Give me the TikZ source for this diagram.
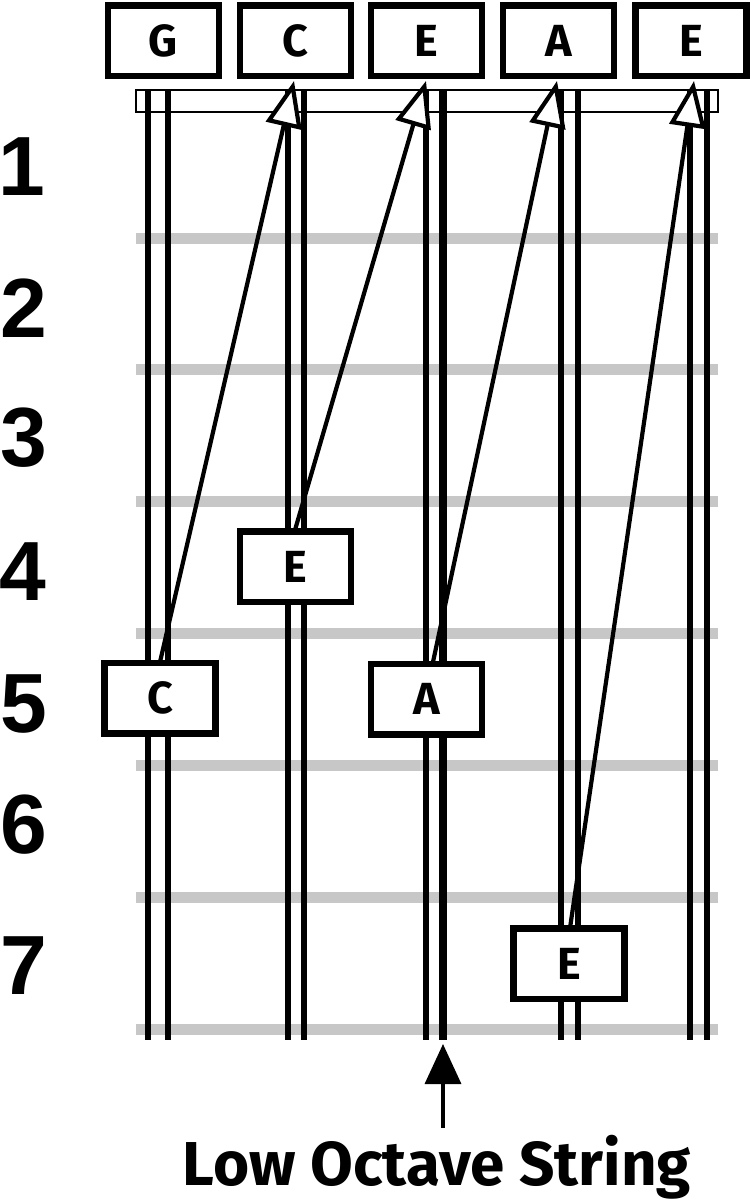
\documentclass[tikz,border=0pt]{standalone}
\usepackage{fontspec}
\setmainfont{Fira Sans}
\newfontfamily\numfont{Liberation Sans}
\usetikzlibrary{arrows.meta}
\tikzset{
  notebox/.style={draw, line width=6.5pt, fill=white, minimum width=111pt, minimum height=70.5pt, inner sep=0pt,
    font=\bfseries\fontsize{45}{45}\selectfont},
  fretline/.style={draw=black!22, line width=11pt},
  stringline/.style={draw=black, line width=5.5pt},
  boldstring/.style={draw=black, line width=8.5pt},
  nutbox/.style={draw=black, line width=1.3pt},
  moveline/.style={draw=black, line width=4.2pt, -{Triangle[length=46pt,width=36pt,fill=white]}},
  lowarrow/.style={draw=black, line width=3.5pt, -{Triangle[length=40pt,width=36pt]}},
  fretnum/.style={inner sep=0pt, font=\numfont\bfseries\fontsize{84}{84}\selectfont},
  lowlabel/.style={inner sep=0pt, anchor=base, font=\bfseries\fontsize{62}{62}\selectfont}
}
\begin{document}
\begin{tikzpicture}[x=1pt,y=-1pt]
\useasboundingbox[fill=white] (0,0) rectangle (751,1200);
% fret lines
\foreach \fy in {238,369.5,501,633,765,897,1029}{
  \draw[fretline] (136,\fy) -- (718,\fy);
}
% nut
\draw[nutbox] (136,90) rectangle (718,112);
% strings
\foreach \sx in {148,168,288,304,426,561,578,690,707}{
  \draw[stringline] (\sx,89) -- (\sx,1040);
}
\draw[boldstring] (443,89) -- (443,1040);
% fret numbers
\node[fretnum] (n1) at (22,167) {1};
\node[fretnum] (n2) at (24,308) {2};
\node[fretnum] (n3) at (24,438) {3};
\node[fretnum] (n4) at (23,572) {4};
\node[fretnum] (n5) at (24,704) {5};
\node[fretnum] (n6) at (24,825) {6};
\node[fretnum] (n7) at (24,966) {7};
% arrow tip targets
\coordinate (tC) at (294,81);
\coordinate (tE) at (426,81);
\coordinate (tA) at (557,81);
\coordinate (tE2) at (694,81);
% fretted notes
\coordinate (sC) at (160,662);
\coordinate (sE) at (295,530);
\coordinate (sA) at (433,662);
\coordinate (sE2) at (570,928);
\draw[moveline] (sC) -- (tC);
\draw[moveline] (sE) -- (tE);
\draw[moveline] (sA) -- (tA);
\draw[moveline] (sE2) -- (tE2);
% open-string boxes
\node[notebox] (oG) at (163.5,40.5) {G};
\node[notebox] (oC) at (295.5,40.5) {C};
\node[notebox] (oE) at (426.5,40.5) {E};
\node[notebox] (oA) at (558.5,40.5) {A};
\node[notebox] (oE2) at (691,40.5) {E};
% fretted boxes
\node[notebox] (fC) at (160,698) {C};
\node[notebox] (fE) at (295.5,566.5) {E};
\node[notebox] (fA) at (426.5,699) {A};
\node[notebox] (fE2) at (569,963.5) {E};
% low octave
\coordinate (lowtail) at (443,1128);
\coordinate (lowtip) at (443,1044);
\draw[lowarrow] (lowtail) -- (lowtip);
\node[lowlabel] (lowtext) at (437,1185) {Low Octave String};
\end{tikzpicture}
\end{document}
